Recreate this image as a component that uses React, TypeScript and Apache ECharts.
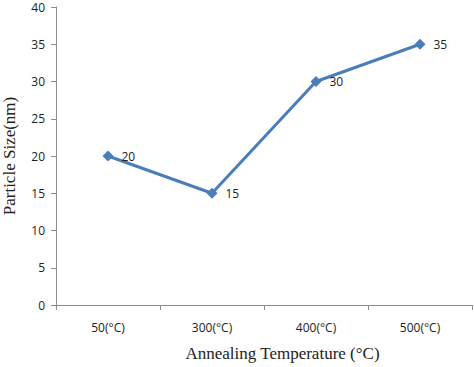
import React, { useEffect, useRef } from "react";
import * as echarts from "echarts";

const categories = ["50(°C)", "300(°C)", "400(°C)", "500(°C)"];
const particleSize = [20, 15, 30, 35];
const yTicks = { min: 0, max: 40, interval: 5 };

export default function App() {
  const ref = useRef<HTMLDivElement>(null);
  useEffect(() => {
    if (!ref.current) return;
    const chart = echarts.init(ref.current, null, { renderer: "svg" });
    chart.setOption({
      animation: false,
      backgroundColor: "#fff",
      grid: { left: 56, top: 7, right: 2, bottom: 62, containLabel: false, outerBoundsMode: "none" },
      xAxis: {
        type: "category",
        data: categories,
        boundaryGap: true,
        name: "Annealing Temperature (°C)",
        nameLocation: "middle",
        nameGap: 40,
        nameTextStyle: {
          fontFamily: "Liberation Serif",
          fontSize: 17,
          color: "#222",
          padding: [0, 0, 0, 37],
        },
        axisLine: { lineStyle: { color: "#8c8c8c", width: 1 } },
        axisTick: { show: true, length: 5, lineStyle: { color: "#8c8c8c" } },
        axisLabel: { fontFamily: "Open Sans", fontSize: 12, color: "#222", margin: 16 },
        splitLine: { show: false },
      },
      yAxis: {
        type: "value",
        min: yTicks.min,
        max: yTicks.max,
        interval: yTicks.interval,
        name: "Particle Size(nm)",
        nameLocation: "middle",
        nameGap: 38,
        nameRotate: 90,
        nameTextStyle: { fontFamily: "Liberation Serif", fontSize: 17, color: "#222" },
        axisLine: { show: true, lineStyle: { color: "#8c8c8c", width: 1 } },
        axisTick: { show: true, length: 5, lineStyle: { color: "#8c8c8c" } },
        axisLabel: { fontFamily: "Open Sans", fontSize: 12, color: "#222", margin: 11 },
        splitLine: { show: false },
      },
      series: [
        {
          type: "line",
          data: particleSize,
          symbol: "diamond",
          symbolSize: 11,
          lineStyle: { color: "#4a7ebb", width: 3 },
          itemStyle: { color: "#4a7ebb" },
          label: {
            show: true,
            position: "right",
            distance: 8,
            fontFamily: "Open Sans",
            fontSize: 12,
            color: "#222",
          },
        },
      ],
    });
    return () => chart.dispose();
  }, []);
  return (
    <div
      ref={ref}
      style={{ position: "fixed", left: 0, top: 0, width: 474, height: 367 }}
    />
  );
}
